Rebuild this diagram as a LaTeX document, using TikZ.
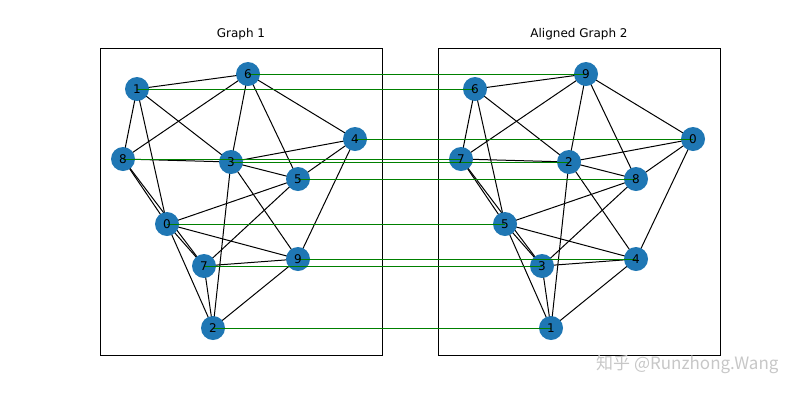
\documentclass[tikz,border=0pt]{standalone}
\usepackage{fontspec}
\usetikzlibrary{calc}
\setmainfont{DejaVu Sans}
\newfontfamily\cjk{Noto Sans CJK SC}
\definecolor{mblue}{HTML}{1F77B4}
\definecolor{mgreen}{HTML}{008000}
\begin{document}
\begin{tikzpicture}[x=1pt,y=-1pt,
  vtx/.style={circle,fill=mblue,minimum size=24pt,inner sep=0pt},
  lbl/.style={font=\fontsize{12}{12}\selectfont,inner sep=0pt},
  edge/.style={black,line width=1pt},
  match/.style={mgreen,line width=1pt}]
\useasboundingbox (0,0) rectangle (800,400);
\draw[line width=0.8pt] (100,48) rectangle (382,355);
\draw[line width=0.8pt] (438,48) rectangle (720,355);
\node[font=\fontsize{12}{12}\selectfont] (t1) at (241,34) {Graph 1};
\node[font=\fontsize{12}{12}\selectfont] (t2) at (579,34) {Aligned Graph 2};
\foreach \n/\x/\y in {1/137/89,6/248/74,4/355/139,8/123/159,3/231/162,5/298/179,0/167/224,7/204/266,9/298/259,2/213/328}{
  \coordinate (a\n) at (\x,\y);
}
\foreach \n/\m in {0/5,1/6,2/1,3/2,4/0,5/8,6/9,7/3,8/7,9/4}{
  \coordinate (b\m) at ($(a\n)+(338,0)$);
}
\foreach \u/\v in {1/6,1/8,1/0,1/3,6/8,6/3,6/5,6/4,4/3,4/5,4/9,8/3,8/0,8/7,3/5,3/9,3/2,5/0,5/7,0/7,0/9,0/2,7/9,7/2,9/2}{
  \draw[edge] (a\u) -- (a\v);
}
\foreach \u/\v in {6/9,6/7,6/5,6/2,9/7,9/2,9/8,9/0,0/2,0/8,0/4,7/2,7/5,7/3,2/8,2/4,2/1,8/5,8/3,5/3,5/4,5/1,3/4,3/1,4/1}{
  \draw[edge] (b\u) -- (b\v);
}
\foreach \n in {0,...,9}{
  \node[vtx] (na\n) at (a\n) {};
  \node[vtx] (nb\n) at (b\n) {};
}
\foreach \n/\m in {0/5,1/6,2/1,3/2,4/0,5/8,6/9,7/3,8/7,9/4}{
  \draw[match] (na\n.center) -- (nb\m.center);
}
\foreach \n in {0,...,9}{
  \node[lbl] (la\n) at (a\n) {\n};
  \node[lbl] (lb\n) at (b\n) {\n};
}
\node[font=\cjk\fontsize{17}{17}\selectfont,text=black!22,anchor=east] (wm) at (782,364) {知乎 @Runzhong.Wang};
\end{tikzpicture}
\end{document}
